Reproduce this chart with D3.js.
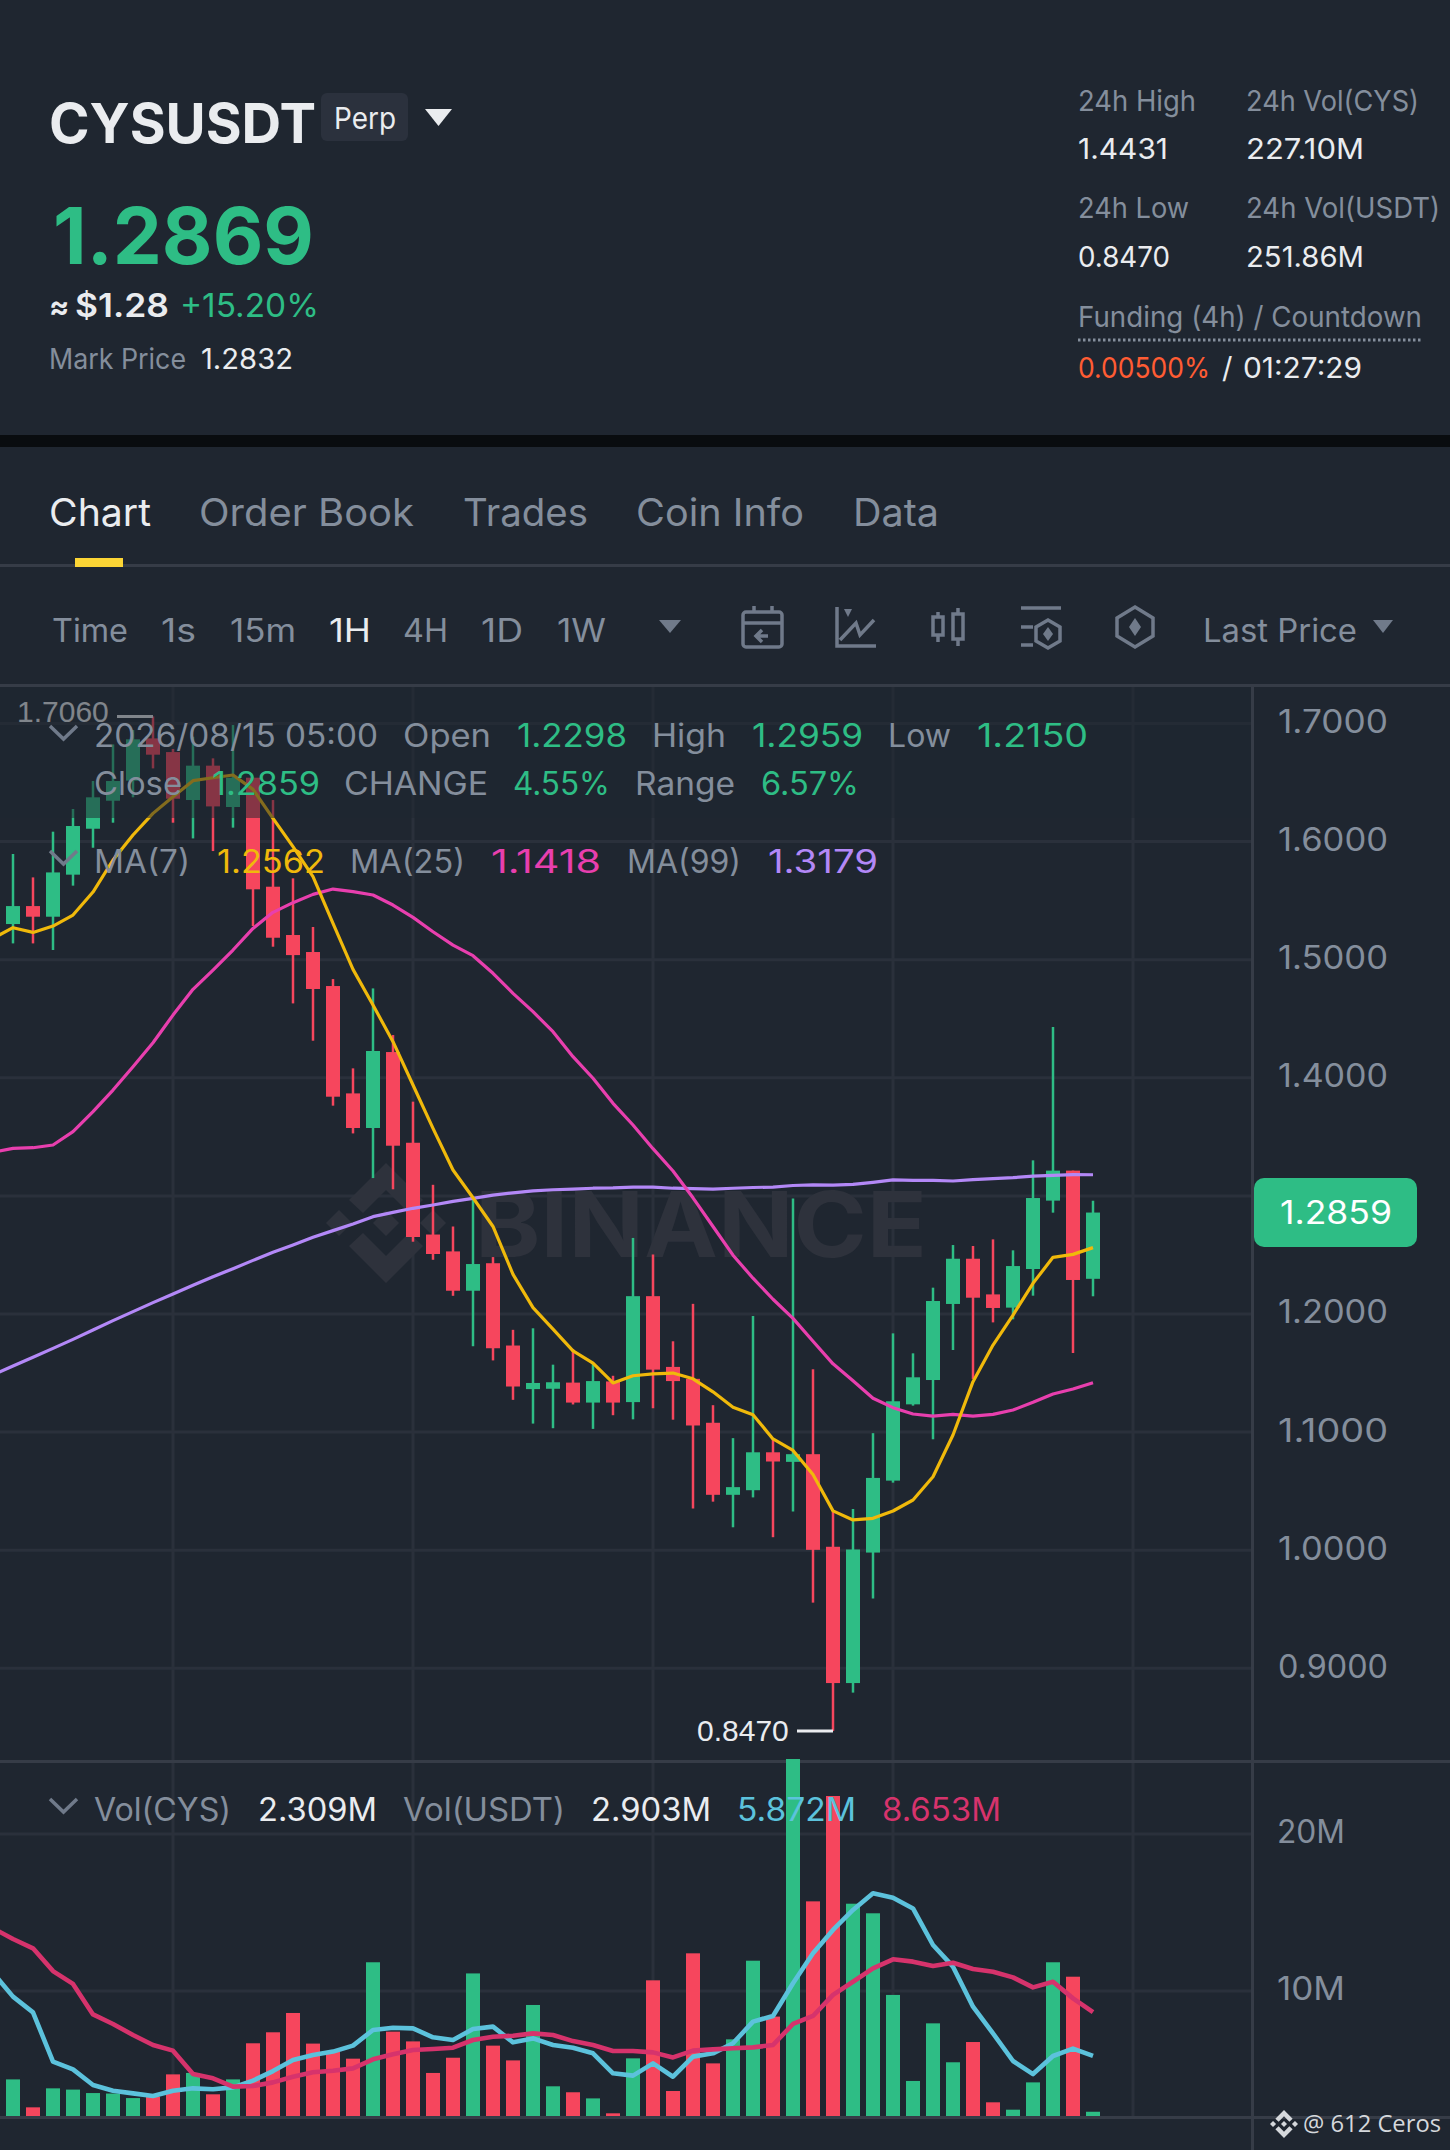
<!DOCTYPE html>
<html>
<head>
<meta charset="utf-8">
<title>CYSUSDT Perp</title>
<script src="https://cdn.jsdelivr.net/npm/d3@7"></script>
<style>
  html, body { margin: 0; padding: 0; background: #1f2630; }
  svg { display: block; }
  text { font-family: Inter, "Open Sans", sans-serif; }
</style>
</head>
<body>
<svg id="drawing_region" width="1450" height="2150"></svg>
<script>
// candles
const opens = [1.5302,1.5454,1.5364,1.5720,1.6109,1.6346,1.6516,1.6874,1.6758,1.6352,1.6643,1.6293,1.6541,1.5618,1.5209,1.5065,1.4777,1.3868,1.3575,1.4218,1.3450,1.2673,1.2530,1.2197,1.2430,1.1733,1.1364,1.1367,1.1419,1.1250,1.1429,1.1254,1.2151,1.1552,1.1451,1.1079,1.0469,1.0508,1.0829,1.0748,1.0813,1.0029,0.8875,0.9980,1.0589,1.1235,1.1441,1.2085,1.2468,1.2166,1.2054,1.2381,1.2960,1.3214,1.2298];
const highs = [1.5895,1.5697,1.6084,1.6276,1.6513,1.6823,1.6945,1.7060,1.6784,1.6888,1.6705,1.6987,1.6541,1.6352,1.5689,1.5277,1.4836,1.4080,1.4757,1.4362,1.3798,1.3094,1.2741,1.2968,1.2482,1.1866,1.1879,1.1571,1.1704,1.1584,1.1477,1.2644,1.2504,1.1769,1.2086,1.1228,1.0949,1.1983,1.0942,1.2977,1.1532,1.0327,1.0349,1.0991,1.1836,1.1667,1.2223,1.2584,1.2576,1.2632,1.2539,1.3301,1.4430,1.3214,1.2959];
const lows = [1.5138,1.5138,1.5082,1.5627,1.5948,1.6160,1.6375,1.6620,1.6160,1.6027,1.5920,1.6118,1.5285,1.5110,1.4630,1.4314,1.3764,1.3529,1.3151,1.3056,1.2612,1.2459,1.2154,1.1727,1.1607,1.1273,1.1072,1.1033,1.1234,1.1027,1.1143,1.1108,1.1202,1.1105,1.0353,1.0411,1.0194,1.0447,1.0110,1.0327,0.9556,0.8470,0.8794,0.9591,1.0572,1.1224,1.0939,1.1695,1.1450,1.1929,1.1955,1.2155,1.2858,1.1670,1.2150];
const closes = [1.5454,1.5364,1.5739,1.6132,1.6375,1.6513,1.6866,1.6736,1.6363,1.6643,1.6298,1.6541,1.5596,1.5186,1.5039,1.4752,1.3840,1.3575,1.4227,1.3425,1.2652,1.2508,1.2197,1.2423,1.1710,1.1386,1.1416,1.1422,1.1250,1.1432,1.1250,1.2151,1.1529,1.1432,1.1056,1.0469,1.0534,1.0829,1.0751,1.0813,1.0003,0.8875,1.0006,1.0612,1.1261,1.1464,1.2110,1.2468,1.2138,1.2051,1.2406,1.2982,1.3214,1.2288,1.2859];

// moving averages, first value belongs to the candle just off the left edge
const ma7 = [1.5181,1.5271,1.5231,1.5285,1.5378,1.5573,1.5844,1.6056,1.6239,1.6380,1.6516,1.6541,1.6564,1.6442,1.6197,1.5957,1.5703,1.5308,1.4918,1.4616,1.4306,1.3939,1.3572,1.3219,1.2984,1.2741,1.2336,1.2054,1.1872,1.1688,1.1584,1.1416,1.1477,1.1493,1.1500,1.1451,1.1341,1.1211,1.1147,1.0942,1.0845,1.0641,1.0333,1.0256,1.0270,1.0332,1.0425,1.0622,1.0975,1.1427,1.1737,1.1991,1.2260,1.2480,1.2505,1.2562];
const ma25 = [1.3369,1.3402,1.3408,1.3431,1.3544,1.3713,1.3896,1.4094,1.4297,1.4531,1.4749,1.4912,1.5082,1.5265,1.5401,1.5483,1.5553,1.5598,1.5576,1.5548,1.5463,1.5358,1.5237,1.5124,1.5034,1.4885,1.4715,1.4560,1.4390,1.4179,1.3996,1.3784,1.3600,1.3400,1.3211,1.2984,1.2741,1.2498,1.2303,1.2125,1.1963,1.1769,1.1578,1.1435,1.1286,1.1207,1.1153,1.1136,1.1150,1.1136,1.1150,1.1187,1.1252,1.1323,1.1365,1.1418];
const ma99 = [1.1484,1.1560,1.1633,1.1709,1.1785,1.1864,1.1944,1.2020,1.2096,1.2169,1.2243,1.2316,1.2384,1.2454,1.2522,1.2584,1.2649,1.2706,1.2762,1.2824,1.2861,1.2895,1.2923,1.2954,1.2979,1.3007,1.3026,1.3042,1.3052,1.3058,1.3065,1.3068,1.3075,1.3075,1.3065,1.3062,1.3058,1.3065,1.3071,1.3075,1.3088,1.3094,1.3091,1.3097,1.3115,1.3135,1.3132,1.3132,1.3126,1.3137,1.3146,1.3154,1.3168,1.3174,1.3180,1.3179];

// volume in millions
const volumes = [4.37,2.59,3.80,3.72,3.50,3.47,3.18,3.27,4.69,4.78,3.42,4.37,6.67,7.37,8.60,6.65,6.14,5.69,11.83,7.41,6.79,4.78,5.75,11.12,6.52,5.58,9.11,3.93,3.55,3.16,2.21,5.71,10.68,3.63,12.40,5.39,6.92,11.93,8.37,25.30,15.71,22.42,15.56,14.95,9.75,4.27,7.94,5.46,6.75,2.91,2.44,4.18,11.83,10.91,2.309];
const volMa5 = [11.17,9.64,8.64,5.50,5.01,4.01,3.65,3.48,3.31,3.65,3.80,3.74,3.86,4.29,4.90,5.60,5.92,6.14,6.52,7.52,7.66,7.62,7.05,6.88,7.58,7.73,6.73,6.98,6.56,6.39,6.03,4.76,4.61,5.39,4.54,5.82,6.03,6.67,8.05,8.41,10.49,12.40,13.89,15.16,16.22,15.94,15.26,12.93,11.55,9.00,7.30,5.54,4.71,5.86,6.33,5.872];
const volMa10 = [14.00,13.31,12.72,11.27,10.45,8.51,7.90,7.20,6.56,6.20,4.71,4.44,3.91,3.95,4.18,4.54,4.82,4.92,5.07,5.65,5.97,6.24,6.31,6.39,6.88,7.09,7.15,7.30,7.20,6.81,6.56,6.18,6.18,6.09,5.77,6.20,6.28,6.35,6.41,6.56,7.90,8.41,9.75,10.59,11.44,12.02,11.87,11.59,11.80,11.40,11.23,10.87,10.23,10.59,9.53,8.653];

const priceGrid = [1.7,1.6,1.5,1.4,1.3,1.2,1.1,1.0,0.9];
const priceTicks = [1.7,1.6,1.5,1.4,1.2,1.1,1.0,0.9]; // 1.3 sits under the last price tag
const volTicks = [20,10];
const gridCandles = [8,20,32,44,56];

const tabs = ['Chart','Order Book','Trades','Coin Info','Data'];
const intervals = ['Time','1s','15m','1H','4H','1D','1W'];

const GREEN = '#2ebd85', RED = '#f6465d', GREY = '#848e9c', WHITE = '#eaecef', BG = '#1f2630';
const GRID = '#2a303b', LINE = '#363c47', ICON = '#707a8a';

const svg = d3.select('#drawing_region');
svg.append('rect').attr('width',1450).attr('height',2150).attr('fill',BG);

function txt( parent, x, y, s, size, color, opts ) {
    opts = opts || {};
    const t = parent.append('text')
        .attr('x', x).attr('y', y)
        .attr('font-size', size)
        .attr('fill', color)
        .attr('font-weight', opts.weight || 400)
        .text(s);
    if( opts.family ) t.style('font-family', opts.family);
    if( opts.anchor ) t.attr('text-anchor', opts.anchor);
    if( opts.w ) t.attr('textLength', opts.w).attr('lengthAdjust','spacingAndGlyphs');
    return t;
}
function tri( parent, x0, x1, y0, y1, color ) {
    parent.append('path')
        .attr('d', `M${x0},${y0}L${x1},${y0}L${(x0+x1)/2},${y1}Z`)
        .attr('fill', color);
}
function chevron( parent, x0, x1, y0, y1 ) {
    parent.append('path')
        .attr('d', `M${x0},${y0}L${(x0+x1)/2},${y1}L${x1},${y0}`)
        .attr('fill','none').attr('stroke',ICON).attr('stroke-width',3.5);
}
// binance logo, r is half of the height
function logo( parent, cx, cy, r, color ) {
    const k = r/60;
    const g = parent.append('g').attr('transform',`translate(${cx},${cy}) scale(${k})`).attr('fill',color);
    g.append('path').attr('d','M0,-60L37,-23L23,-10L0,-33L-23,-10L-37,-23Z');
    g.append('path').attr('d','M0,60L37,23L23,10L0,33L-23,10L-37,23Z');
    g.append('path').attr('d','M0,-13L13,0L0,13L-13,0Z');
    g.append('path').attr('d','M-47,-13L-34,0L-47,13L-60,0Z');
    g.append('path').attr('d','M47,-13L60,0L47,13L34,0Z');
}

// ---- header ----
const head = svg.append('g');
txt(head, 49, 143, 'CYSUSDT', 55, WHITE, {weight:700, w:267});
head.append('rect').attr('x',321).attr('y',93).attr('width',87).attr('height',48).attr('rx',6).attr('fill','#2b313d');
txt(head, 334, 129, 'Perp', 30, WHITE, {w:62});
tri(head, 425, 452, 109, 126, WHITE);
txt(head, 53, 264, '1.2869', 79, GREEN, {weight:700, w:261});
txt(head, 49, 317, '≈', 30, WHITE, {weight:700});
txt(head, 75, 317, '$1.28', 33, WHITE, {weight:600, w:94});
txt(head, 180, 317, '+15.20%', 33, GREEN, {w:139});
txt(head, 49, 369, 'Mark Price', 28, GREY, {w:137});
txt(head, 201, 369, '1.2832', 28, WHITE, {w:92});
txt(head, 1078, 111, '24h High', 29, GREY, {w:118});
txt(head, 1246, 111, '24h Vol(CYS)', 29, GREY, {w:173});
txt(head, 1078, 159, '1.4431', 29, WHITE, {w:90});
txt(head, 1246, 159, '227.10M', 29, WHITE, {w:118});
txt(head, 1078, 218, '24h Low', 29, GREY, {w:111});
txt(head, 1246, 218, '24h Vol(USDT)', 29, GREY, {w:194});
txt(head, 1078, 267, '0.8470', 29, WHITE, {w:92});
txt(head, 1246, 267, '251.86M', 29, WHITE, {w:118});
txt(head, 1078, 327, 'Funding (4h) / Countdown', 29, GREY, {w:344});
head.append('line').attr('x1',1078).attr('x2',1423).attr('y1',340).attr('y2',340)
    .attr('stroke',GREY).attr('stroke-width',3).attr('stroke-dasharray','2.5 2.5');
txt(head, 1078, 378, '0.00500%', 29, '#ff5c33', {w:132});
txt(head, 1222, 378, '/', 29, WHITE);
txt(head, 1243, 378, '01:27:29', 29, WHITE, {w:119});
svg.append('rect').attr('x',0).attr('y',435).attr('width',1450).attr('height',12).attr('fill','#090c0f');

// ---- tabs ----
const tabX = [49,199,463,636,853], tabW = [102,215,125,168,86];
tabs.forEach( (s,i) => txt(svg, tabX[i], 526, s, 38, i==0 ? WHITE : GREY, {w:tabW[i]}) );
svg.append('rect').attr('x',0).attr('y',564).attr('width',1450).attr('height',3).attr('fill',LINE);
svg.append('rect').attr('x',75).attr('y',558).attr('width',48).attr('height',9).attr('fill','#fcd535');

// ---- toolbar ----
const ivX = [52,161,230,329,403,481,557], ivW = [76,35,66,42,45,42,49];
intervals.forEach( (s,i) => txt(svg, ivX[i], 642, s, 32, s=='1H' ? WHITE : GREY, {w:ivW[i]}) );
tri(svg, 659, 681, 620, 633, ICON);
txt(svg, 1203, 642, 'Last Price', 32, GREY, {w:154});
tri(svg, 1373, 1393, 620, 633, ICON);

const icons = svg.append('g').attr('fill','none').attr('stroke',ICON).attr('stroke-width',3.5);
icons.append('rect').attr('x',743).attr('y',612).attr('width',39).attr('height',35).attr('rx',3);
icons.append('path').attr('d','M743,623H782M754,606V612M772,606V612M768,636H756M762,630L756,636L762,642');
icons.append('path').attr('d','M837,607V646H876M840,640L856,623L860,635L874,620');
tri(svg, 844, 852, 609, 617, ICON);
icons.append('path').attr('d','M938,612V617M938,635V642M958,608V614M958,639V646');
icons.append('rect').attr('x',933).attr('y',617).attr('width',10).attr('height',18);
icons.append('rect').attr('x',953).attr('y',614).attr('width',10).attr('height',25);
icons.append('path').attr('d','M1021,608H1061M1021,627H1033M1021,645H1033');
icons.append('path').attr('d','M1048,620L1060,627V641L1048,648L1036,641V627Z');
svg.append('path').attr('d','M1048,627L1053,634L1048,641L1043,634Z').attr('fill',ICON);
icons.append('path').attr('d','M1135,607L1153,618V636L1135,647L1117,636V618Z');
svg.append('path').attr('d','M1135,618L1141,627L1135,636L1129,627Z').attr('fill',ICON);

svg.append('rect').attr('x',0).attr('y',684).attr('width',1450).attr('height',3).attr('fill',LINE);

// ---- scales ----
const xScale = d3.scaleLinear().domain([0,54]).range([13,1093]);
const yPrice = d3.scaleLinear().domain([0.9,1.7]).range([1668.3,723.5]);
const yVol = d3.scaleLinear().domain([0,20]).range([2148,1834]);
const bodyW = 14, barW = 14;

const defs = svg.append('defs');
defs.append('clipPath').attr('id','pricePane').append('rect').attr('x',0).attr('y',687).attr('width',1252).attr('height',1074);
defs.append('clipPath').attr('id','volPane').append('rect').attr('x',0).attr('y',1759).attr('width',1252).attr('height',358);

// ---- grid ----
const grid = svg.append('g').attr('stroke',GRID).attr('stroke-width',3);
grid.selectAll('.v').data(gridCandles).enter().append('line')
    .attr('x1',d=>xScale(d)).attr('x2',d=>xScale(d)).attr('y1',687).attr('y2',2117);
grid.selectAll('.p').data(priceGrid).enter().append('line')
    .attr('x1',0).attr('x2',1252).attr('y1',d=>yPrice(d)).attr('y2',d=>yPrice(d));
grid.selectAll('.m').data(volTicks).enter().append('line')
    .attr('x1',0).attr('x2',1252).attr('y1',d=>yVol(d)).attr('y2',d=>yVol(d));

// ---- watermark ----
logo(svg, 386, 1223, 60, '#2e323c');
txt(svg, 475, 1257, 'BINANCE', 91, '#2e323c', {weight:700, w:452});

// ---- candles ----
const candleData = d3.range(opens.length).map( i => ({i:i, o:opens[i], h:highs[i], l:lows[i], c:closes[i]}) );
const pricePane = svg.append('g').attr('clip-path','url(#pricePane)');
const candle = pricePane.selectAll('.candle').data(candleData).enter().append('g');
candle.append('line')
    .attr('x1',d=>xScale(d.i)).attr('x2',d=>xScale(d.i))
    .attr('y1',d=>yPrice(d.h)).attr('y2',d=>yPrice(d.l))
    .attr('stroke',d=>d.c>=d.o ? GREEN : RED).attr('stroke-width',2.5);
candle.append('rect')
    .attr('x',d=>xScale(d.i)-bodyW/2).attr('width',bodyW)
    .attr('y',d=>yPrice(Math.max(d.o,d.c)))
    .attr('height',d=>Math.max(2,Math.abs(yPrice(d.o)-yPrice(d.c))))
    .attr('fill',d=>d.c>=d.o ? GREEN : RED);

const priceLine = d3.line().x((d,i)=>xScale(i-1)).y(d=>yPrice(d));
const maLines = [[ma99,'#b388f7'],[ma25,'#e83fae'],[ma7,'#f0b90b']];
maLines.forEach( m => {
    pricePane.append('path').attr('d',priceLine(m[0])).attr('fill','none')
        .attr('stroke',m[1]).attr('stroke-width',3.2).attr('stroke-linejoin','round');
});

// high / low marks
txt(svg, 17, 722, '1.7060', 30, WHITE, {family:'"Liberation Sans", Arial, sans-serif'});
svg.append('line').attr('x1',117).attr('x2',xScale(7)).attr('y1',yPrice(1.7060)).attr('y2',yPrice(1.7060)).attr('stroke',WHITE).attr('stroke-width',3);
txt(svg, 697, 1741, '0.8470', 30, WHITE, {family:'"Liberation Sans", Arial, sans-serif'});
svg.append('line').attr('x1',797).attr('x2',xScale(41)).attr('y1',yPrice(0.8470)).attr('y2',yPrice(0.8470)).attr('stroke',WHITE).attr('stroke-width',3);

// legend sits on a half transparent strip
svg.append('rect').attr('x',0).attr('y',687).attr('width',1252).attr('height',131).attr('fill',BG).attr('opacity',0.52);

const legend = svg.append('g');
chevron(legend, 50, 77, 726, 739);
txt(legend, 94, 747, '2026/08/15 05:00', 32, GREY, {w:284});
txt(legend, 403, 747, 'Open', 32, GREY, {w:88});
txt(legend, 517, 747, '1.2298', 32, GREEN, {w:110});
txt(legend, 652, 747, 'High', 32, GREY, {w:74});
txt(legend, 752, 747, '1.2959', 32, GREEN, {w:111});
txt(legend, 888, 747, 'Low', 32, GREY, {w:63});
txt(legend, 977, 747, '1.2150', 32, GREEN, {w:111});
txt(legend, 94, 795, 'Close', 32, GREY, {w:88});
txt(legend, 212, 795, '1.2859', 32, GREEN, {w:108});
txt(legend, 344, 795, 'CHANGE', 32, GREY, {w:144});
txt(legend, 513, 795, '4.55%', 32, GREEN, {w:97});
txt(legend, 635, 795, 'Range', 32, GREY, {w:100});
txt(legend, 761, 795, '6.57%', 32, GREEN, {w:98});
chevron(legend, 50, 77, 851, 864);
txt(legend, 94, 873, 'MA(7)', 32, GREY, {w:96});
txt(legend, 217, 873, '1.2562', 32, '#f0b90b', {w:108});
txt(legend, 350, 873, 'MA(25)', 32, GREY, {w:115});
txt(legend, 491, 873, '1.1418', 32, '#e83fae', {w:110});
txt(legend, 627, 873, 'MA(99)', 32, GREY, {w:114});
txt(legend, 768, 873, '1.3179', 32, '#b388f7', {w:110});

// ---- volume pane ----
svg.append('rect').attr('x',0).attr('y',1760).attr('width',1450).attr('height',3).attr('fill',LINE);
const volPane = svg.append('g').attr('clip-path','url(#volPane)');
volPane.selectAll('.bar').data(candleData).enter().append('rect')
    .attr('x',d=>xScale(d.i)-barW/2).attr('width',barW)
    .attr('y',d=>yVol(volumes[d.i]))
    .attr('height',d=>yVol(0)-yVol(volumes[d.i]))
    .attr('fill',d=>d.c>=d.o ? GREEN : RED);
const volLine = d3.line().x((d,i)=>xScale(i-1)).y(d=>yVol(d));
[[volMa5,'#5cc2dc'],[volMa10,'#d6336c']].forEach( m => {
    volPane.append('path').attr('d',volLine(m[0])).attr('fill','none')
        .attr('stroke',m[1]).attr('stroke-width',4.6).attr('stroke-linejoin','round');
});
svg.append('rect').attr('x',0).attr('y',2116).attr('width',1450).attr('height',3).attr('fill',LINE);
svg.append('rect').attr('x',1251).attr('y',687).attr('width',3).attr('height',1463).attr('fill',LINE);

const volLegend = svg.append('g');
chevron(volLegend, 50, 77, 1799, 1812);
txt(volLegend, 94, 1821, 'Vol(CYS)', 32, GREY, {w:137});
txt(volLegend, 258, 1821, '2.309M', 32, WHITE, {w:119});
txt(volLegend, 403, 1821, 'Vol(USDT)', 32, GREY, {w:162});
txt(volLegend, 591, 1821, '2.903M', 32, WHITE, {w:120});
txt(volLegend, 737, 1821, '5.872M', 32, '#5cc2dc', {w:119});
txt(volLegend, 882, 1821, '8.653M', 32, '#d6336c', {w:119});

// ---- axes ----
const priceAxis = d3.axisRight(yPrice).tickValues(priceTicks).tickFormat(d3.format('.4f')).tickSize(0).tickPadding(0);
const volAxis = d3.axisRight(yVol).tickValues(volTicks).tickFormat(d=>d+'M').tickSize(0).tickPadding(0);
[[priceAxis,1278,110],[volAxis,1277,68]].forEach( a => {
    const g = svg.append('g').attr('transform',`translate(${a[1]},0)`).call(a[0]);
    g.select('.domain').remove();
    g.selectAll('text').attr('fill',GREY).attr('font-size',32).style('font-family','Inter, sans-serif')
        .attr('dy','0.28em').attr('textLength',a[2]).attr('lengthAdjust','spacingAndGlyphs');
});

// last price tag
svg.append('rect').attr('x',1254).attr('y',1178).attr('width',163).attr('height',69).attr('rx',10).attr('fill',GREEN);
txt(svg, 1280, 1224, '1.2859', 32, '#ffffff', {w:112});

// credit
logo(svg, 1284, 2124, 14, '#d5d8dc');
txt(svg, 1303, 2132, '@ 612 Ceros', 23, '#d5d8dc', {w:138, family:'"Open Sans", sans-serif'});
</script>
</body>
</html>
